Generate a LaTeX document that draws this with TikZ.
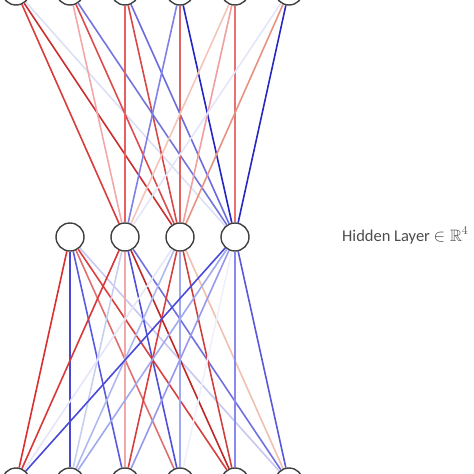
\documentclass[tikz,border=0pt]{standalone}
\usepackage{fontspec}
\usepackage{amssymb}
\setmainfont{Carlito}
\usetikzlibrary{backgrounds}
\begin{document}
\begin{tikzpicture}[x=1pt,y=-1pt,
  neuron/.style={circle,draw=black!75,line width=1.4pt,fill=white,minimum size=28pt,inner sep=0pt},
  edge/.style={line width=1.6pt},
  lbl/.style={anchor=base west,text=black!70,inner sep=0pt,font=\fontsize{16.5}{19}\selectfont}]
\useasboundingbox (0,0) rectangle (474,474);
\clip (0,0) rectangle (474,474);
\foreach \i/\x in {1/16,2/70,3/125,4/180,5/235,6/289} {
  \node[neuron] (t\i) at (\x,-9) {};
  \node[neuron] (b\i) at (\x,482) {};
}
\foreach \i/\x in {1/70,2/125,3/180,4/235} {
  \node[neuron] (h\i) at (\x,237) {};
}
\begin{scope}[on background layer]
\foreach \s/\t/\c in {1/2/D83C3C,1/3/CC3030,1/4/DCE0F4,
  2/2/F2A8A8,2/3/DD4C4C,2/4/7474DC,
  3/2/E66060,3/3/D84848,3/4/6C6CDE,
  4/2/8080E6,4/3/E06464,4/4/2424C4,
  5/2/F4C4B8,5/3/F0A0A0,5/4/E87070,
  6/2/E2E6F8,6/3/E89282,6/4/2828C0} {
  \definecolor{ec}{HTML}{\c}
  \draw[edge,ec] (t\s) -- (h\t);
}
\foreach \s/\t/\c in {1/1/D83030,1/2/4848D0,1/3/5A5AE0,1/4/E07070,1/5/D84040,1/6/C8C8F0,
  2/1/D83838,2/2/C8D0F0,2/3/F0A8A8,2/4/5050D8,2/5/C02828,2/6/7070E0,
  3/1/E4E6F8,3/2/B0B8F0,3/3/D84040,3/4/A0A8F0,3/5/D04040,3/6/F0C0B0,
  4/1/4A4AD8,4/2/A0A8EE,4/3/9898EC,4/4/EEF0FA,4/5/8888EE,4/6/5858D8} {
  \definecolor{ec}{HTML}{\c}
  \draw[edge,ec] (h\s) -- (b\t);
}
\end{scope}
\node[lbl] (label) at (342,241) {Hidden Layer $\in\mathbb{R}^4$};
\end{tikzpicture}
\end{document}
